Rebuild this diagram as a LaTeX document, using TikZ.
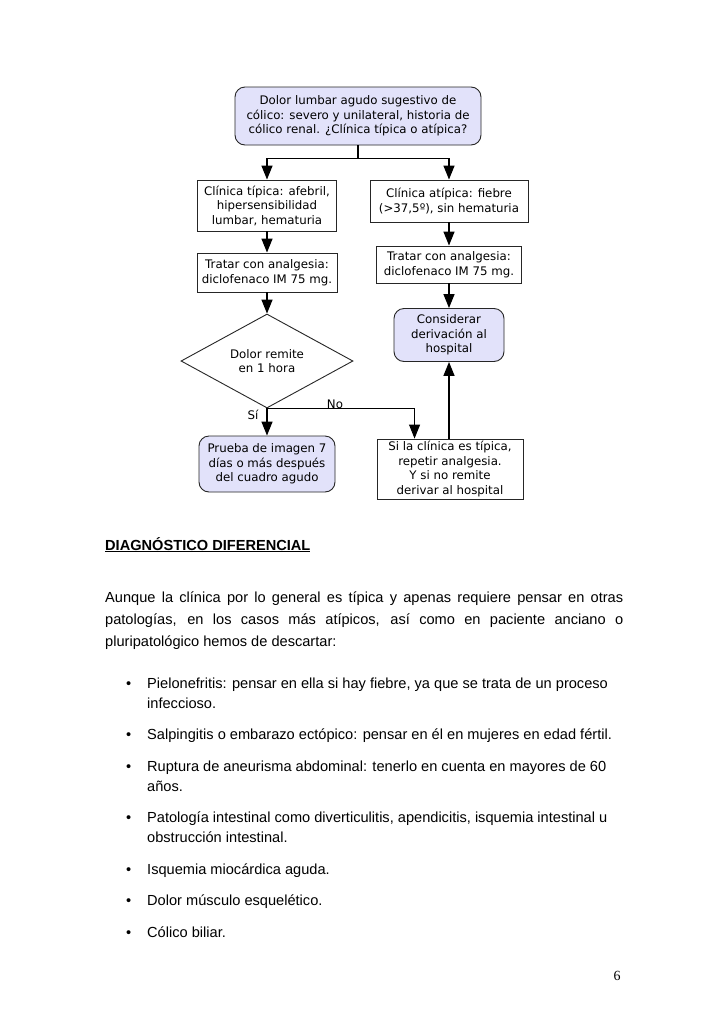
\documentclass[tikz,border=0pt]{standalone}
\usepackage{fontspec}
\setmainfont{Liberation Sans}
\newfontfamily\diag{DejaVu Sans}
\newfontfamily\tnr{Liberation Serif}
\usetikzlibrary{shapes.geometric,arrows.meta,calc}
\definecolor{lav}{RGB}{226,226,250}
\begin{document}
\begin{tikzpicture}[x=1pt,y=-1pt,
  box/.style={draw=black!85, line width=0.9pt, align=center, inner sep=0pt,
    font=\diag\fontsize{11.8}{14.5}\selectfont},
  rbox/.style={box, fill=lav, rounded corners=10pt},
  ln/.style={line width=1.4pt},
  arr/.style={line width=1.4pt, -{Triangle[width=11pt,length=14pt]}},
  lbl/.style={anchor=base, inner sep=0pt, font=\diag\fontsize{11.8}{13}\selectfont},
  body/.style={anchor=base west, inner sep=0pt, font=\fontsize{14.6}{20}\selectfont},
]
\useasboundingbox[fill=white] (0,0) rectangle (728,1031);

% flowchart
\node[rbox, minimum width=246pt, minimum height=58pt] (top) at (358,116)
  {Dolor lumbar agudo sugestivo de\\cólico: severo y unilateral, historia de\\cólico renal. ¿Clínica típica o atípica?};
\node[box, minimum width=139pt, minimum height=51pt] (lb1) at (267,205.5)
  {Clínica típica: afebril,\\hipersensibilidad\\lumbar, hematuria};
\node[box, minimum width=158pt, minimum height=42pt] (rb1) at (449,201)
  {Clínica atípica: fiebre\\(>37,5º), sin hematuria};
\node[box, minimum width=140pt, minimum height=39pt] (lb2) at (267,272.5)
  {Tratar con analgesia:\\diclofenaco IM 75 mg.};
\node[box, minimum width=145pt, minimum height=37pt] (rb2) at (449,264.5)
  {Tratar con analgesia:\\diclofenaco IM 75 mg.};
\node[rbox, minimum width=110pt, minimum height=53pt] (cons) at (449,335)
  {Considerar\\derivación al\\hospital};
\node[box, diamond, aspect=1.83, minimum width=172pt, minimum height=94pt] (d) at (267,361)
  {Dolor remite\\en 1 hora};
\node[rbox, minimum width=136pt, minimum height=56pt] (lbot) at (267,464)
  {Prueba de imagen 7\\días o más después\\del cuadro agudo};
\node[box, minimum width=146pt, minimum height=60pt] (rbot) at (450,469)
  {Si la clínica es típica,\\repetir analgesia.\\Y si no remite\\derivar al hospital};

\draw[ln] (top.south) -- ++(0,13) coordinate (br);
\draw[arr] (br) -| (lb1.north);
\draw[arr] (br) -| (rb1.north);
\draw[arr] (lb1.south) -- (lb2.north);
\draw[arr] (rb1.south) -- (rb2.north);
\draw[arr] (rb2.south) -- (cons.north);
\draw[arr] (lb2.south) -- (d.north);
\draw[arr] (d.south) -- (lbot.north);
\coordinate (noin) at ($(rbot.north west)+(38,0)$);
\draw[arr, line width=1pt] (d.south) -| (noin);
\draw[arr] (rbot.north -| cons.south) -- (cons.south);
\node[lbl] (si) at (253,419) {Sí};
\node[lbl] (no) at (335,408) {No};

% text
\node[body, font=\bfseries\fontsize{14.6}{16}\selectfont] (h) at (105,550) {\underline{DIAGNÓSTICO DIFERENCIAL}};
\node[body] (p1) at (105,602) {\hbox to 518pt{Aunque la clínica por lo general es típica y apenas requiere pensar en otras}};
\node[body] (p2) at (105,624) {\hbox to 518pt{patologías, en los casos más atípicos, así como en paciente anciano o}};
\node[body] (p3) at (105,646) {pluripatológico hemos de descartar:};

\foreach \y in {688,739.5,771,822.5,874,905.5,937}
  \node[body] at (126,\y) {•};
\node[body] (b1) at (147,688) {Pielonefritis: pensar en ella si hay fiebre, ya que se trata de un proceso};
\node[body] (b1b) at (147,708) {infeccioso.};
\node[body] (b2) at (147,739.5) {Salpingitis o embarazo ectópico: pensar en él en mujeres en edad fértil.};
\node[body] (b3) at (147,771) {Ruptura de aneurisma abdominal: tenerlo en cuenta en mayores de 60};
\node[body] (b3b) at (147,791) {años.};
\node[body] (b4) at (147,822.5) {Patología intestinal como diverticulitis, apendicitis, isquemia intestinal u};
\node[body] (b4b) at (147,842.5) {obstrucción intestinal.};
\node[body] (b5) at (147,874) {Isquemia miocárdica aguda.};
\node[body] (b6) at (147,905.5) {Dolor músculo esquelético.};
\node[body] (b7) at (147,937) {Cólico biliar.};

\node[anchor=base, inner sep=0pt, font=\tnr\fontsize{14}{16}\selectfont] (pg) at (617,980) {6};
\end{tikzpicture}
\end{document}
